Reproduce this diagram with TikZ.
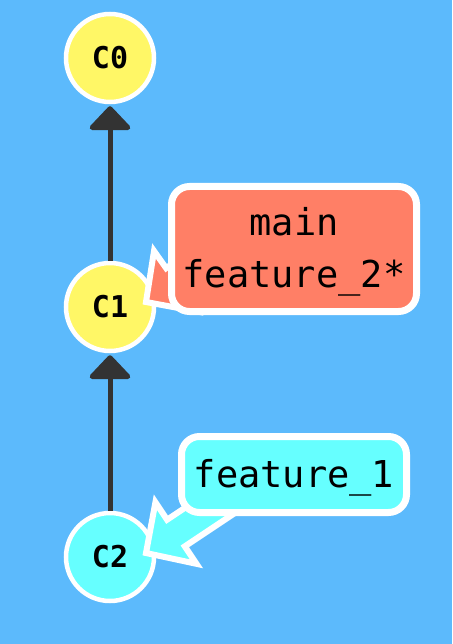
\documentclass[tikz,border=0pt]{standalone}
\usepackage{fontspec}
\setmonofont{DejaVu Sans Mono}
\usetikzlibrary{arrows.meta,calc}
\definecolor{bgblue}{HTML}{5CBAFC}
\definecolor{commity}{HTML}{FFF766}
\definecolor{mainc}{HTML}{FF7F66}
\definecolor{featc}{HTML}{66FFFF}
\definecolor{edgec}{HTML}{333333}
\tikzset{
  commit/.style={circle, draw=white, line width=4.5pt, minimum size=88pt, inner sep=0pt,
              font=\ttfamily\bfseries\fontsize{30}{30}\selectfont},
  branch/.style={rounded corners=18pt, draw=white, line width=7pt, inner sep=0pt,
              align=center, font=\ttfamily\fontsize{37}{52}\selectfont},
  parent/.style={-{Triangle[length=25pt,width=46pt,round]}, draw=edgec, fill=edgec,
              line width=5pt, shorten >=2pt},
}
% branch pointer: tip, tail, colour
\newcommand\refptr[3]{%
  \coordinate (#1-h) at ($(#1)!36pt!(#2)$);
  \path[fill=#3, draw=white, line width=6pt, line join=miter]
    ($(#2)!16pt!90:(#1)$) -- ($(#1-h)!16pt!-90:(#2)$) -- ($(#1-h)!37pt!-90:(#2)$)
    -- (#1) -- ($(#1-h)!37pt!90:(#2)$) -- ($(#1-h)!16pt!90:(#2)$)
    -- ($(#2)!16pt!-90:(#1)$) -- cycle;
}
% lowered line of a label
\newcommand\lowered[1]{\raisebox{-3pt}[\height][\depth]{#1}}

\begin{document}
\begin{tikzpicture}[x=1pt, y=-1pt]
\fill[bgblue] (0,0) rectangle (452,644);

% commits
\node[commit, fill=commity] (c0) at (110,58) {C0};
\node[commit, fill=commity] (c1) at (110,307) {C1};
\node[commit, fill=featc] (c2) at (110,557) {C2};
\draw[parent] (c1) -- (c0);
\draw[parent] (c2) -- (c1);

% branch labels
\coordinate (m-tip) at ($(c1)+(36,-5)$);
\coordinate (m-tail) at ($(c1)+(118,-63)$);
\coordinate (f-tip) at ($(c2)+(36,-4)$);
\coordinate (f-tail) at ($(c2)+(120,-60)$);
\refptr{m-tip}{m-tail}{mainc}
\refptr{f-tip}{f-tail}{featc}
\node[branch, fill=mainc, minimum width=245pt, minimum height=125pt] (lmain) at (294,249)
  {\lowered{main}\\\lowered{feature\_2*}};
\node[branch, fill=featc, minimum width=225pt, minimum height=76pt] (lfeat) at (294,474.5)
  {\lowered{feature\_1}};
\end{tikzpicture}
\end{document}
